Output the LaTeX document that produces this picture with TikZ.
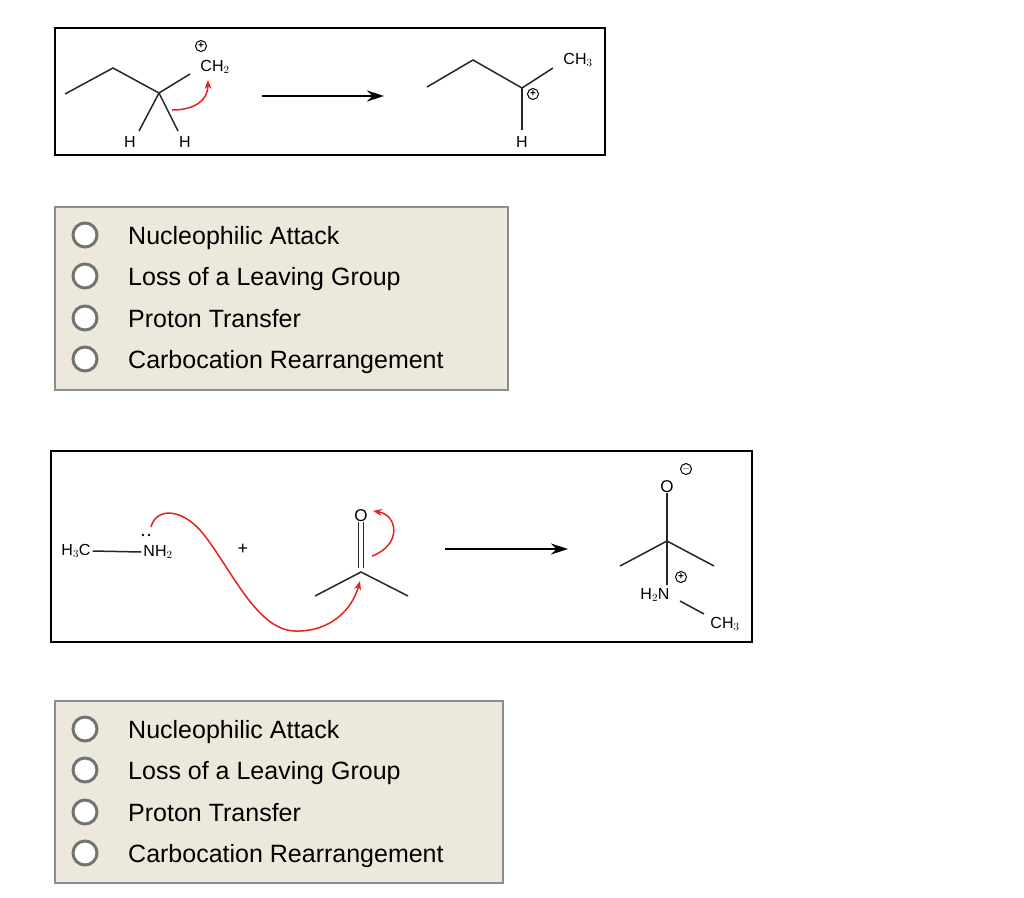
\documentclass[tikz,border=0pt]{standalone}
\usepackage{fontspec}
\setmainfont{Liberation Sans}
\usetikzlibrary{arrows.meta}
\definecolor{optbg}{HTML}{ECE9DC}
\definecolor{chemred}{HTML}{E8201F}
\begin{document}
\begin{tikzpicture}[x=1pt,y=-1pt,
  bond/.style={line width=1.5pt,black!85},
  lbl/.style={font=\fontsize{16}{17}\selectfont,inner sep=0pt},
  chg/.style={circle,draw,line width=1pt,minimum size=11pt,inner sep=0pt,font=\fontsize{10}{10}\selectfont\bfseries},
  rxbox/.style={draw,line width=1.4pt,fill=white},
  optbox/.style={draw=black!45,line width=2.2pt,fill=optbg},
  radio/.style={circle,draw=black!55,line width=3pt,fill=white,minimum size=24pt,inner sep=0pt},
  opt/.style={anchor=base west,font=\fontsize{25}{28}\selectfont,inner sep=0pt},
  rarrow/.style={chemred,line width=1.5pt,-{Stealth[length=9pt,width=7pt]}},
  rxn/.style={line width=1.8pt,-{Stealth[length=17pt,width=11pt]}}]
\useasboundingbox (0,0) rectangle (1024,897);
% ---------- box 1
\path[rxbox] (55,28) rectangle (605,155);
\coordinate (a1) at (65,94); \coordinate (a2) at (113,68); \coordinate (a3) at (159,93);
\coordinate (a4) at (190,74); \coordinate (a5) at (139,131); \coordinate (a6) at (178,131);
\draw[bond] (a1)--(a2)--(a3)--(a4);
\draw[bond] (a3)--(a5); \draw[bond] (a3)--(a6);
\node[lbl] (ch2) at (215,67) {CH$_2$};
\node[chg] (p1) at (201,46) {+};
\node[lbl] (h1) at (130,142) {H};
\node[lbl] (h2) at (185,142) {H};
\coordinate (r1s) at (172,110); \coordinate (r1e) at (208,80);
\draw[rarrow] (r1s) .. controls (195,110) and (208,100) .. (r1e);
\coordinate (ar1s) at (262,96); \coordinate (ar1e) at (384,96);
\draw[rxn] (ar1s)--(ar1e);
\coordinate (b1) at (427,87); \coordinate (b2) at (473,60); \coordinate (b3) at (522,88);
\coordinate (b4) at (553,68); \coordinate (b5) at (522,130);
\draw[bond] (b1)--(b2)--(b3)--(b4); \draw[bond] (b3)--(b5);
\node[lbl] (ch3a) at (578,60) {CH$_3$};
\node[chg] (p2) at (533,94) {+};
\node[lbl] (h3) at (522,142) {H};
% ---------- options 1
\path[optbox] (55,207) rectangle (508,390);
\foreach \y/\t [count=\i] in {235/Nucleophilic Attack,276/Loss of a Leaving Group,318/Proton Transfer,359/Carbocation Rearrangement}{
  \node[radio] (ra\i) at (85,\y) {};
  \node[opt] (ta\i) at (128,\y+9) {\t};
}
% ---------- box 2
\path[rxbox] (51,451) rectangle (752,642);
\node[lbl] (h3c) at (76,551) {H$_3$C};
\node[lbl] (nh2) at (158,552) {NH$_2$};
\draw[bond] (h3c.east)++(2,0) -- ([xshift=-2pt]nh2.west);
\fill (143,535) circle (1.3pt) (149,535) circle (1.3pt);
\node[font=\fontsize{18}{18}\selectfont,inner sep=0pt] (plus) at (243,549) {+};
\node[lbl,font=\fontsize{17}{17}\selectfont] (o1) at (361,516) {O};
\coordinate (c1) at (361,572); \coordinate (c1l) at (315,596); \coordinate (c1r) at (408,596);
\draw[bond] (o1.south)++(-2.5,0) -- ++(0,46);
\draw[bond] (o1.south)++(2.5,0) -- ++(0,46);
\draw[bond] (c1l)--(c1)--(c1r);
\draw[rarrow] (372,556) .. controls (402,545) and (398,515) .. (373,511);
\draw[rarrow] (151,527) .. controls (156,508) and (180,508) .. (200,530)
  .. controls (230,565) and (255,630) .. (295,631)
  .. controls (330,632) and (352,610) .. (360,581);
\coordinate (ar2s) at (445,549); \coordinate (ar2e) at (568,549);
\draw[rxn] (ar2s)--(ar2e);
\node[lbl,font=\fontsize{17}{17}\selectfont] (o2) at (667,487) {O};
\node[chg] (m1) at (686,469) {$-$};
\coordinate (c2) at (667,541); \coordinate (c2l) at (620,566); \coordinate (c2r) at (714,566);
\node[lbl] (n2) at (655,595) {H$_2$N};
\draw[bond] (o2.south)--(c2); \draw[bond] (c2l)--(c2)--(c2r);
\draw[bond] (c2)--(667,585);
\node[chg] (p3) at (681,577) {+};
\node[lbl] (ch3b) at (725,624) {CH$_3$};
\draw[bond] (680,601)--(704,614);
% ---------- options 2
\path[optbox] (55,701) rectangle (503,883);
\foreach \y/\t [count=\i] in {729/Nucleophilic Attack,770/Loss of a Leaving Group,812/Proton Transfer,853/Carbocation Rearrangement}{
  \node[radio] (rb\i) at (85,\y) {};
  \node[opt] (tb\i) at (128,\y+9) {\t};
}
\end{tikzpicture}
\end{document}
